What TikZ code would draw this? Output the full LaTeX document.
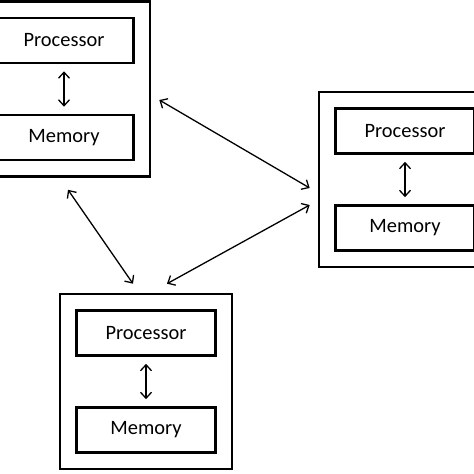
\documentclass[tikz,border=0pt]{standalone}
\usepackage{fontspec}
\setmainfont{Carlito}
\usepackage{tikz}
\usetikzlibrary{arrows.meta,positioning}

\begin{document}
\begin{tikzpicture}[x=1bp,y=-1bp,
		node outer/.style={draw, line width=2.6pt, minimum width=172bp, minimum height=175bp},
		node inner/.style={draw, line width=2.6pt, minimum width=139bp, minimum height=45bp},
		link/.style={line width=1.3pt, {Straight Barb[length=6bp,width=11bp]}-{Straight Barb[length=6bp,width=11bp]}}]
			\clip (0,0) rectangle (474,474);
			\fontsize{20.5}{22}\selectfont
			% three machines
			\foreach \n/\x/\y in {tl/64/89, rt/405/179.5, bt/146/381.5} {
				\node[node outer] (\n) at (\x,\y) {};
				\node[node inner] (\n-proc) at (\x,\y-48.5) {Processor};
				\node[node inner] (\n-mem) at (\x,\y+48.5) {Memory};
				\draw[link, shorten <=7bp, shorten >=7bp] (\n-proc) -- (\n-mem);
			}
			% network
			\draw[link] ([shift={(8,11)}]tl.east) -- ([shift={(-8,8.5)}]rt.west);
			\draw[link] ([shift={(21,-9)}]bt.north) -- ([shift={(-8,25.5)}]rt.west);
			\draw[link] ([shift={(4,12)}]tl.south) -- ([shift={(-13,-9)}]bt.north);
		\end{tikzpicture}
\end{document}
